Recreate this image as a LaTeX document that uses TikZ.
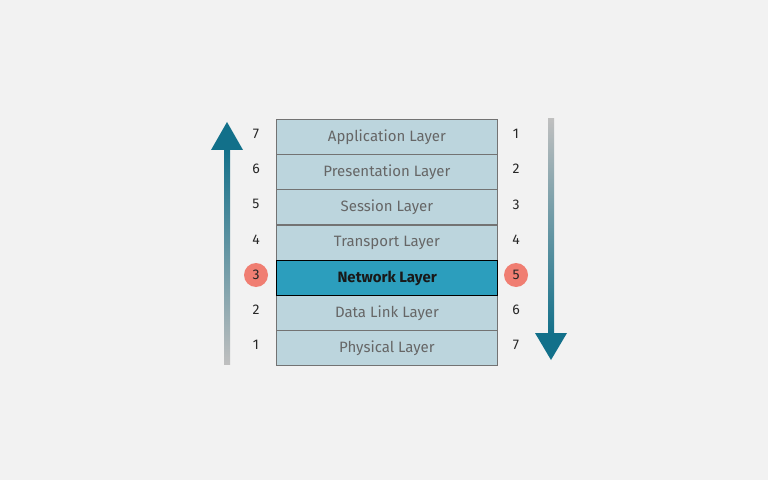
\documentclass[tikz,border=0pt]{standalone}
\usepackage{fontspec}
\setmainfont{Fira Sans}
\begin{document}
\begin{tikzpicture}[x=1pt,y=1pt,
  layer/.style={draw=black!55,line width=0.8pt,fill=rowc,minimum width=221pt,minimum height=35pt,anchor=north west,text=black!60,font=\fontsize{15}{16}\selectfont,inner sep=0pt},
  num/.style={font=\fontsize{14}{15}\selectfont,text=black!85},
  badge/.style={circle,fill=badgec,minimum size=24pt,inner sep=0pt,font=\fontsize{14}{15}\selectfont,text=black!85}]
\definecolor{bg}{HTML}{F2F2F2}
\definecolor{rowc}{HTML}{BCD5DD}
\definecolor{netc}{HTML}{2C9EBD}
\definecolor{teal}{HTML}{12708A}
\definecolor{badgec}{HTML}{F07E72}
\fill[bg] (0,0) rectangle (768,480);
\useasboundingbox (0,0) rectangle (768,480);
\foreach \t [count=\i] in {Application Layer,Presentation Layer,Session Layer,Transport Layer,Network Layer,Data Link Layer,Physical Layer}{
  \pgfmathsetmacro\yy{480-119-(\i-1)*35.2}
  \ifnum\i=5\relax
  \else
  \node[layer] (L\i) at (276,\yy) {\t};
  \fi
}
\node[layer,fill=netc,draw=black,line width=1.4pt,text=black!90,font=\fontsize{15}{16}\selectfont\bfseries] (L5) at (276,480-119-4*35.2) {Network Layer};
\foreach \i/\l/\r in {1/7/1,2/6/2,3/5/3,4/4/4,6/2/6,7/1/7}{
  \node[num] (nl\i) at (256,{480-134-(\i-1)*35.2}) {\l};
  \node[num] (nr\i) at (516,{480-134-(\i-1)*35.2}) {\r};
}
\node[badge] (bl) at (256,480-275) {3};
\node[badge] (br) at (516,480-275) {5};
% left arrow up
\shade[bottom color=black!25,top color=teal] (224,480-364) rectangle (230,480-148);
\fill[teal] (211,480-150) -- (227,480-122) -- (243,480-150) -- cycle;
% right arrow down
\shade[top color=black!25,bottom color=teal] (548,480-119) rectangle (554,480-335);
\fill[teal] (535,480-333) -- (551,480-360) -- (567,480-333) -- cycle;
\end{tikzpicture}
\end{document}
